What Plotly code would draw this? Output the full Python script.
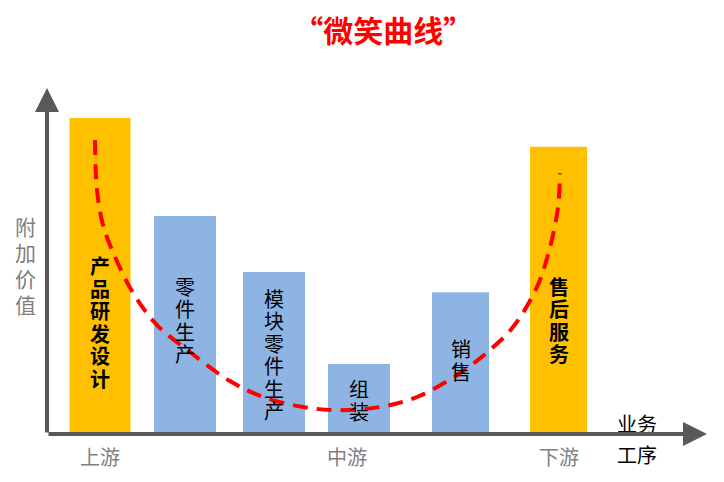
import plotly.graph_objects as go

# ----------------------------------------------------------------------------- data

stages = ["产品研发设计", "零件生产", "模块零件生产", "组装", "销售", "售后服务"]
value_added = [9.13, 6.30, 4.68, 2.02, 4.10, 8.30]
highlight = [True, False, False, False, False, True]

# smile curve
curve_x = [4.8, 5.0, 5.6, 6.5, 8.6, 11.0, 14.3, 18.3, 21.6, 25.6, 29.3,
           33.3, 37.0, 41.3, 44.3, 46.6, 49.0, 50.3, 51.1, 51.3]
curve_y = [8.50, 7.05, 6.04, 5.32, 4.08, 3.15, 2.37, 1.53, 1.07, 0.78, 0.69,
           0.78, 1.07, 1.76, 2.43, 3.09, 4.25, 5.40, 6.56, 7.54]

stream_labels = ["上游", "中游", "下游"]

# ----------------------------------------------------------------------------- layout helpers

bar_pos = [5.3, 13.8, 22.7, 31.2, 41.35, 51.15]
bar_width = [6.1, 6.2, 6.2, 6.2, 5.7, 5.7]
label_y = [3.24, 3.30, 2.30, 0.98, 2.14, 3.30]
stream_pos = [0.080, 0.455, 0.776]  # paper x

ORANGE = "#FFC000"
BLUE = "#8EB4E3"
AXIS = "#595959"
GREY = "#7F7F7F"
FONT = "Noto Sans CJK SC"


def label(text, x, y, size, color, xref="paper", yref="paper", yshift=0):
    return dict(
        x=x, y=y, xref=xref, yref=yref, text=text, showarrow=False,
        xanchor="center", yanchor="middle", yshift=yshift,
        font=dict(family=FONT, size=size, color=color),
    )


def vertical_text(text, x, y, size, pitch, color, bold=False, xref="x", yref="y"):
    """Un caracter por anotacion, apilados con paso fijo (px)."""
    n = len(text)
    return [
        label(f"<b>{ch}</b>" if bold else ch, x, y, size, color, xref, yref,
              yshift=((n - 1) / 2 - i) * pitch)
        for i, ch in enumerate(text)
    ]


fig = go.Figure()

fig.add_trace(
    go.Bar(
        x=bar_pos,
        y=value_added,
        width=bar_width,
        marker=dict(color=[ORANGE if h else BLUE for h in highlight], line=dict(width=0)),
        hoverinfo="skip",
    )
)

fig.add_trace(
    go.Scatter(
        x=curve_x,
        y=curve_y,
        mode="lines",
        line=dict(color="#FF0000", width=4, dash="15px,9px", shape="spline", smoothing=1),
        hoverinfo="skip",
    )
)

annotations = []

# vertical labels inside the bars
for name, xp, yp, h in zip(stages, bar_pos, label_y, highlight):
    annotations += vertical_text(name, xp, yp, 20, 22.5, "black", bold=h)

# 上游 / 中游 / 下游
for lab, xp in zip(stream_labels, stream_pos):
    annotations.append(label(lab, xp, -0.064, 20, GREY))

annotations += vertical_text("附加价值", -0.033, 0.488, 21, 26, GREY,
                             xref="paper", yref="paper")

annotations.append(label("业务", 0.894, 0.029, 20, "black"))
annotations.append(label("工序", 0.894, -0.058, 20, "black"))

# axes with arrow heads
annotations.append(
    dict(x=66, y=0, ax=0, ay=0, xref="x", yref="y", axref="x", ayref="y",
         text="", showarrow=True, arrowhead=2, arrowsize=1.2, arrowwidth=4,
         arrowcolor=AXIS)
)
annotations.append(
    dict(x=0, y=10, ax=0, ay=0, xref="x", yref="y", axref="x", ayref="y",
         text="", showarrow=True, arrowhead=2, arrowsize=1.2, arrowwidth=4,
         arrowcolor=AXIS)
)

# the page body has an 8px margin, so the figure is 8px smaller on each axis
fig.update_layout(
    width=716,
    height=474,
    margin=dict(l=39, r=17, t=80, b=48),
    paper_bgcolor="white",
    plot_bgcolor="white",
    showlegend=False,
    title=dict(
        text="<b>“微笑曲线”</b>",
        x=0.524, xanchor="center", y=0.95, yanchor="middle",
        font=dict(family=FONT, size=30, color="#FF0000"),
    ),
    xaxis=dict(range=[0, 66], visible=False),
    yaxis=dict(range=[0, 10], visible=False),
    annotations=annotations,
)

fig.write_html("out.html")
